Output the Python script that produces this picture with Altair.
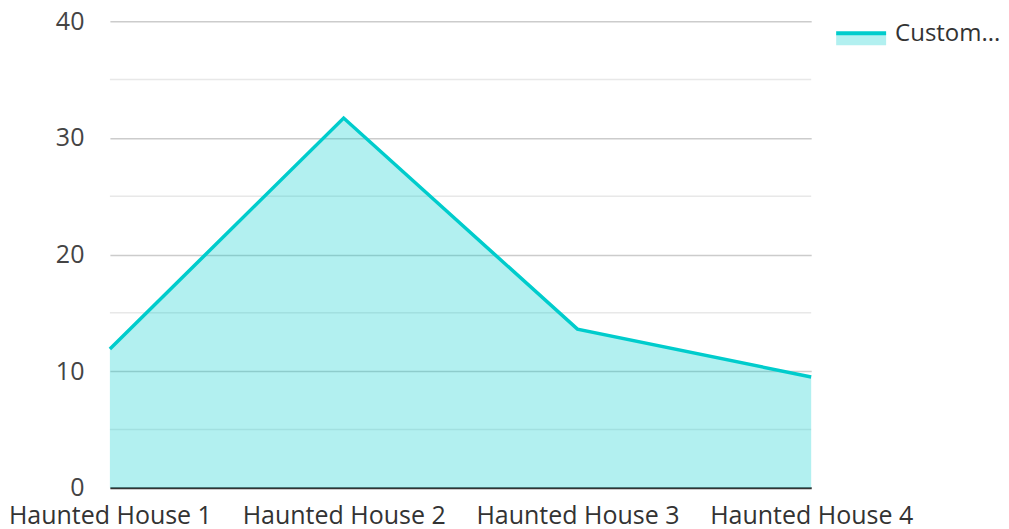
import altair as alt
import pandas as pd

houses = ["Haunted House 1", "Haunted House 2", "Haunted House 3", "Haunted House 4"]
values = [11.9, 31.7, 13.6, 9.5]
major_ticks = [0, 10, 20, 30, 40]
minor_grid = [5, 15, 25, 35]
legend_label = ["Custom..."]

FONT = "Open Sans"
TEAL = "#00cccc"

df = pd.DataFrame({"house": houses, "value": values})
minor_df = pd.DataFrame({"v": minor_grid})
legend_df = pd.DataFrame({"label": legend_label})

x_enc = alt.X(
    "house:N",
    sort=None,
    scale=alt.Scale(type="point", padding=0),
    axis=alt.Axis(
        title=None, labelAngle=0, ticks=False, grid=False,
        domainColor="#333333", domainWidth=2,
        labelFontSize=25, labelFont=FONT, labelColor="#333333",
        labelPadding=16, labelLimit=0, labelOverlap=False,
    ),
)
y_enc = alt.Y(
    "value:Q",
    scale=alt.Scale(domain=[0, 40], nice=False),
    axis=alt.Axis(
        title=None, values=major_ticks, domain=False, ticks=False,
        grid=True, gridColor="#cccccc", gridWidth=1.5,
        labelFontSize=25, labelFont=FONT, labelColor="#444444",
        labelPadding=26,
    ),
)

minor = alt.Chart(minor_df).mark_rule(color="#e8e8e8", strokeWidth=1.5).encode(
    y=alt.Y("v:Q", scale=alt.Scale(domain=[0, 40]))
)

area = alt.Chart(df).mark_area(color=TEAL, opacity=0.3).encode(x=x_enc, y=y_enc)
line = alt.Chart(df).mark_line(color=TEAL, strokeWidth=3.5).encode(x=x_enc, y=y_enc)

leg_rect = alt.Chart(legend_df).mark_rect(color=TEAL, opacity=0.3).encode(
    x=alt.value(727), x2=alt.value(777), y=alt.value(13), y2=alt.value(24)
)
leg_line = alt.Chart(legend_df).mark_rule(color=TEAL, strokeWidth=4).encode(
    x=alt.value(727), x2=alt.value(777), y=alt.value(12)
)
leg_text = alt.Chart(legend_df).mark_text(
    align="left", baseline="middle", fontSize=24, font=FONT, color="#333333"
).encode(x=alt.value(786), y=alt.value(13), text="label:N")

chart = alt.layer(minor, area, line, leg_rect, leg_line, leg_text).properties(
    width=702,
    height=467,
    autosize=alt.AutoSizeParams(type="none"),
    padding={"left": 102, "top": 13, "right": 190, "bottom": 41},
).configure_view(stroke=None)

chart.save("out.html", embed_options={"renderer": "svg", "actions": False})
